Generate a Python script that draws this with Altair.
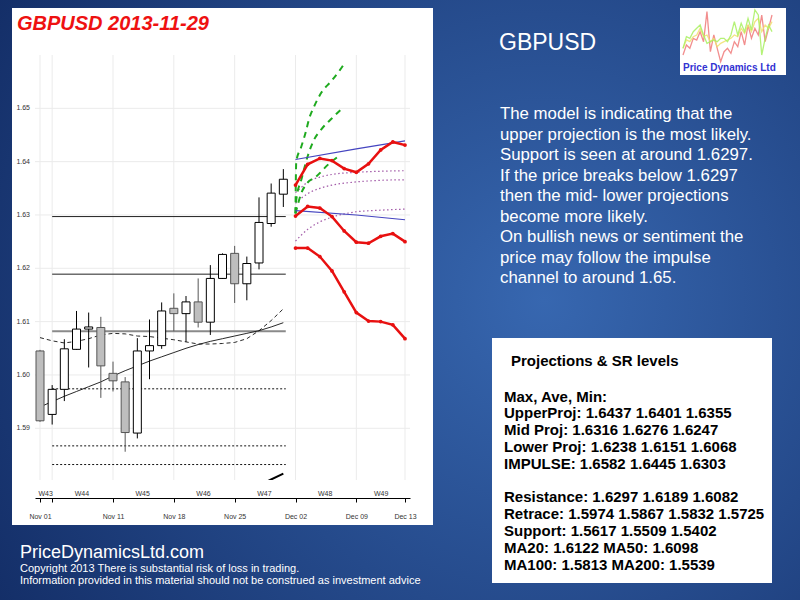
import altair as alt
import pandas as pd

# ---------------- price history (trading-day index: 0 = Nov 01 ... 20 = Nov 29) ----------------
candle_idx = list(range(21))
opens = [1.6045, 1.5926, 1.5973, 1.6048, 1.6086, 1.6089, 1.6003, 1.5987, 1.5891, 1.6045, 1.6055,
         1.6125, 1.6115, 1.6137, 1.6099, 1.6181, 1.6228, 1.6171, 1.6210, 1.6284, 1.6339]
closes = [1.5914, 1.5973, 1.6049, 1.6086, 1.6090, 1.6017, 1.5989, 1.5892, 1.6045, 1.6055, 1.6120,
          1.6115, 1.6137, 1.6099, 1.6181, 1.6226, 1.6171, 1.6209, 1.6286, 1.6341, 1.6367]
highs = [1.6047, 1.5981, 1.6067, 1.6120, 1.6117, 1.6109, 1.6025, 1.5996, 1.6069, 1.6104, 1.6136,
         1.6153, 1.6148, 1.6181, 1.6206, 1.6228, 1.6242, 1.6222, 1.6333, 1.6359, 1.6386]
lows = [1.5912, 1.5907, 1.5951, 1.6047, 1.6014, 1.5957, 1.5969, 1.5856, 1.5881, 1.5992, 1.6049,
        1.6082, 1.6062, 1.6089, 1.6075, 1.6180, 1.6135, 1.6140, 1.6198, 1.6278, 1.6315]

ma20 = [1.6070, 1.6064, 1.6060, 1.6063, 1.6068, 1.6075, 1.6078, 1.6077, 1.6073, 1.6072, 1.6069,
        1.6066, 1.6062, 1.6058, 1.6058, 1.6059, 1.6061, 1.6068, 1.6083, 1.6102, 1.6124]
ma50 = [1.5940, 1.5950, 1.5960, 1.5969, 1.5978, 1.5987, 1.5998, 1.6008, 1.6017, 1.6026, 1.6034,
        1.6042, 1.6050, 1.6057, 1.6063, 1.6068, 1.6073, 1.6078, 1.6083, 1.6090, 1.6098]
ma100_idx = [18, 19, 20]
ma100 = [1.5793, 1.5804, 1.5815]

# support / resistance levels
resistance = [1.6297, 1.6189, 1.6082]
retrace = [1.5974, 1.5867, 1.5832, 1.5725]
sr_span = [1, 20.2]

# ---------------- projections (21 = Dec 02 ... 30 = Dec 13) ----------------
proj_idx = list(range(21, 31))
proj_upper = [1.6356, 1.6395, 1.6406, 1.6402, 1.6387, 1.6380, 1.6396, 1.6422, 1.6437, 1.6431]
proj_mid = [1.6298, 1.6316, 1.6313, 1.6297, 1.6270, 1.6249, 1.6247, 1.6260, 1.6265, 1.6250]
proj_lower = [1.6238, 1.6238, 1.6222, 1.6195, 1.6156, 1.6117, 1.6101, 1.6100, 1.6094, 1.6068]

chan_idx = [21, 26, 30]
chan_upper = [1.6404, 1.6424, 1.6439]
chan_lower = [1.6308, 1.6300, 1.6291]

imp1_idx = [21.0, 21.03, 21.06, 21.46, 21.86, 22.1, 22.5, 23.14, 23.94, 24.66, 24.9]
imp1 = [1.6303, 1.6370, 1.6400, 1.6427, 1.6457, 1.6479, 1.6502, 1.6530, 1.6551, 1.6572, 1.6580]
imp2_idx = [21.0, 21.06, 21.5, 22.0, 22.5, 23.14, 24.02, 24.9]
imp2 = [1.6303, 1.6328, 1.6368, 1.6410, 1.6440, 1.6461, 1.6482, 1.6501]
imp3_idx = [21.0, 21.06, 21.46, 21.9, 22.7, 23.8, 24.6]
imp3 = [1.6303, 1.6308, 1.6340, 1.6358, 1.6372, 1.6397, 1.6411]

p1_idx = [21, 21.5, 22, 23, 24, 26, 28, 30]
p1 = [1.6342, 1.6352, 1.6362, 1.6371, 1.6376, 1.6380, 1.6382, 1.6383]
p2_idx = [21, 22, 23, 24, 26, 28, 30]
p2 = [1.6322, 1.6340, 1.6350, 1.6356, 1.6362, 1.6365, 1.6366]
p3_idx = [21, 22, 23, 24, 25, 26, 28, 30]
p3 = [1.6251, 1.6273, 1.6287, 1.6296, 1.6302, 1.6306, 1.6309, 1.6311]

# axes
date_ticks = [0, 1, 6, 11, 16, 21, 26, 30]
date_labels = ["Nov 01", "", "Nov 11", "Nov 18", "Nov 25", "Dec 02", "Dec 09", "Dec 13"]
week_pos = [0.42, 3.4, 8.4, 13.4, 18.4, 23.4, 28.0]
week_labels = ["W43", "W44", "W45", "W46", "W47", "W48", "W49"]
y_ticks = [1.59, 1.60, 1.61, 1.62, 1.63, 1.64, 1.65]
y_tick_labels = ["1.59", "1.60", "1.61", "1.62", "1.63", "1.64", "1.65"]
x_grid = [0, 1, 6, 11, 16, 21, 26, 30]
x_domain = [0, 30]
y_domain = [1.5803, 1.66]

# logo zig-zags
logo_red = [30, 60, 50, 80, 75, 100, 70, 160, 40, 90, 50, 10, 40, 50, 35, 70, 55, 100, 60, 120, 80, 110, 90, 150, 70, 110, 150]
logo_yellow = [50, 75, 70, 85, 90, 110, 85, 90, 70, 80, 55, 65, 70, 75, 80, 90, 85, 110, 95, 120, 100, 130, 140, 100, 120, 110, 130]
logo_green = [50, 85, 80, 100, 110, 120, 90, 65, 70, 75, 70, 80, 80, 70, 90, 130, 90, 125, 100, 140, 105, 165, 150, 30, 80, 120, 100]

# texts
title_text = "GBPUSD 2013-11-29"
heading_text = "GBPUSD"
para_lines = [
    "The model is indicating that the",
    "upper projection is the most likely.",
    "Support is seen at around 1.6297.",
    "If the price breaks below 1.6297",
    "then the mid- lower projections",
    "become more likely.",
    "On bullish news or sentiment the",
    "price may follow the impulse",
    "channel to around 1.65.",
]
box_title = "Projections & SR levels"
box_lines_a = [
    "Max, Ave, Min:",
    "UpperProj:  1.6437 1.6401 1.6355",
    "Mid Proj:  1.6316 1.6276 1.6247",
    "Lower Proj:  1.6238 1.6151 1.6068",
    "IMPULSE: 1.6582 1.6445 1.6303",
]
box_lines_b = [
    "Resistance: 1.6297 1.6189 1.6082",
    "Retrace: 1.5974 1.5867 1.5832 1.5725",
    "Support: 1.5617 1.5509 1.5402",
    "MA20: 1.6122 MA50: 1.6098",
    "MA100: 1.5813 MA200: 1.5539",
]
footer_site = "PriceDynamicsLtd.com"
footer_lines = [
    "Copyright 2013 There is substantial risk of loss in trading.",
    "Information provided in this material should not be construed as investment advice",
]
logo_text = "Price Dynamics Ltd"

# ---------------- layout ----------------
OX, OY = 35, 55          # plot origin in the page
W, H = 375, 425          # plot size
FONT = "Liberation Sans"

xs = alt.Scale(domain=x_domain, nice=False, zero=False)
ys = alt.Scale(domain=y_domain, nice=False, zero=False)


def lookup_expr(vals, labels, tol=0.01):
    expr = "''"
    for v, l in reversed(list(zip(vals, labels))):
        expr = f"abs(datum.value - {v}) < {tol} ? '{l}' : ({expr})"
    return expr


def px(v, origin):
    return alt.value(v - origin)


one = pd.DataFrame({"a": [0]})


def rect(x1, y1, x2, y2, **kw):
    return alt.Chart(one).mark_rect(**kw).encode(
        x=px(x1, OX), x2=px(x2, OX), y=px(y1, OY), y2=px(y2, OY))


def text_block(lines, x, y, size, color, weight="normal", style="normal", lh=None):
    df = pd.DataFrame({"t": ["\n".join(lines)]})
    return alt.Chart(df).mark_text(
        align="left", baseline="alphabetic", font=FONT, fontSize=size, color=color,
        fontWeight=weight, fontStyle=style, lineBreak="\n", lineHeight=lh or size * 1.2,
    ).encode(x=px(x, OX), y=px(y, OY), text="t:N")


# background
bg = rect(0, 0, 800, 600, fill=alt.RadialGradient(
    gradient="radial",
    stops=[alt.GradientStop(offset=0, color="#3767b0"), alt.GradientStop(offset=1, color="#132d66")],
    x1=0.68, y1=0.5, r1=0, x2=0.68, y2=0.5, r2=0.8))
panel = rect(12, 8, 433, 525, color="white")
box = rect(492, 338, 772, 583, color="white")
logo_box = rect(680, 8, 786, 75, color="white")

# ---------------- main chart ----------------
cdf = pd.DataFrame({"i": candle_idx, "open": opens, "close": closes, "high": highs, "low": lows})
cdf["dir"] = ["up" if c >= o else "down" for o, c in zip(opens, closes)]

stroke_scale = alt.Scale(domain=["up", "down"], range=["black", "#555555"])
fill_scale = alt.Scale(domain=["up", "down"], range=["white", "#bebebe"])

date_axis = alt.Axis(values=date_ticks, labelExpr=lookup_expr(date_ticks, date_labels), orient="bottom",
                     offset=18, domain=True, domainColor="black", domainWidth=1, ticks=True,
                     tickColor="black", tickSize=4, labelPadding=10, labelFontSize=7, labelColor="#333333",
                     labelFont=FONT, grid=False, title=None, zindex=1, labelFlush=False, labelOverlap=False)
week_axis = alt.Axis(values=week_pos, labelExpr=lookup_expr(week_pos, week_labels), orient="bottom",
                     offset=0, domain=False, ticks=False, tickSize=0, labelPadding=9, labelFontSize=7,
                     labelColor="#333333", labelFont=FONT, grid=False, title=None, zindex=1,
                     labelFlush=False, labelOverlap=False)


def X(f, axis=None):
    return alt.X(f, type="quantitative", scale=xs, axis=axis)


def Y(f, axis=None):
    return alt.Y(f, type="quantitative", scale=ys, axis=axis)


ytick_df = pd.DataFrame({"g": y_ticks, "lab": y_tick_labels})
grid_h = alt.Chart(ytick_df).mark_rule(color="#ebebeb", strokeWidth=1).encode(y=Y("g"))
grid_v = alt.Chart(pd.DataFrame({"g": x_grid})).mark_rule(color="#ebebeb", strokeWidth=1).encode(x=X("g"))
# y tick labels, placed through the y scale
y_labels = alt.Chart(ytick_df).mark_text(
    align="right", baseline="middle", font=FONT, fontSize=7, color="#333333", dx=-5
).encode(x=alt.value(0), y=Y("g"), text="lab:N")

res_df = pd.DataFrame({"lvl": resistance[:2], "x1": sr_span[0], "x2": sr_span[1]})
res_black = alt.Chart(res_df).mark_rule(color="#222222", strokeWidth=1).encode(x=X("x1"), x2="x2", y=Y("lvl"))
res_grey = alt.Chart(pd.DataFrame({"lvl": resistance[2:], "x1": sr_span[0], "x2": sr_span[1]})).mark_rule(
    color="#8a8a8a", strokeWidth=2).encode(x=X("x1"), x2="x2", y=Y("lvl"))
ret_df = pd.DataFrame({"lvl": [r for r in retrace if r >= y_domain[0]], "x1": sr_span[0], "x2": sr_span[1]})
ret = alt.Chart(ret_df).mark_rule(color="#111111", strokeWidth=1, strokeDash=[2, 2]).encode(
    x=X("x1"), x2="x2", y=Y("lvl"))

ma50_l = alt.Chart(pd.DataFrame({"i": candle_idx, "v": ma50})).mark_line(color="#111111", strokeWidth=0.9).encode(
    x=X("i"), y=Y("v"))
ma20_l = alt.Chart(pd.DataFrame({"i": candle_idx, "v": ma20})).mark_line(
    color="#111111", strokeWidth=0.9, strokeDash=[4, 3]).encode(x=X("i"), y=Y("v"))
ma100_l = alt.Chart(pd.DataFrame({"i": ma100_idx, "v": ma100})).mark_line(
    color="black", strokeWidth=2, clip=True).encode(x=X("i"), y=Y("v"))

wick = alt.Chart(cdf).mark_rule(strokeWidth=1).encode(
    x=X("i", date_axis), y=Y("low"), y2="high",
    stroke=alt.Stroke("dir:N", scale=stroke_scale, legend=None))
body = alt.Chart(cdf).mark_bar(size=8, strokeWidth=1).encode(
    x=X("i"), y=Y("open"), y2="close",
    fill=alt.Fill("dir:N", scale=fill_scale, legend=None),
    stroke=alt.Stroke("dir:N", scale=stroke_scale, legend=None))


def series_df(pairs):
    rows = []
    for name, xi, vals in pairs:
        for a, b in zip(xi, vals):
            rows.append({"s": name, "i": a, "v": b})
    return pd.DataFrame(rows)


purple = alt.Chart(series_df([("p1", p1_idx, p1), ("p2", p2_idx, p2), ("p3", p3_idx, p3)])).mark_line(
    color="#a25aa8", strokeWidth=1.2, strokeDash=[1.5, 2.5], interpolate="monotone").encode(
    x=X("i"), y=Y("v"), detail="s:N")
green = alt.Chart(series_df([("g1", imp1_idx, imp1), ("g2", imp2_idx, imp2), ("g3", imp3_idx, imp3)])).mark_line(
    color="#1faa1f", strokeWidth=2, strokeDash=[6, 5], interpolate="monotone").encode(
    x=X("i"), y=Y("v"), detail="s:N")
blue = alt.Chart(series_df([("u", chan_idx, chan_upper), ("l", chan_idx, chan_lower)])).mark_line(
    color="#4545c0", strokeWidth=1.2).encode(x=X("i"), y=Y("v"), detail="s:N")
red = alt.Chart(series_df([("u", proj_idx, proj_upper), ("m", proj_idx, proj_mid), ("l", proj_idx, proj_lower)])).mark_line(
    color="#e81010", strokeWidth=2.5, point=alt.OverlayMarkDef(filled=True, size=14, color="#e81010")).encode(
    x=X("i"), y=Y("v"), detail="s:N")

weeks = alt.Chart(pd.DataFrame({"w": week_pos})).mark_point(opacity=0).encode(x=X("w", week_axis))

main = alt.layer(grid_h, grid_v, y_labels, res_black, res_grey, ret, ma50_l, ma20_l, wick, body, ma100_l,
                 purple, green, blue, red, weeks).resolve_axis(x="independent")

# ---------------- logo ----------------
n = len(logo_red)
logo_df = series_df([("r", list(range(n)), logo_red), ("y", list(range(n)), logo_yellow),
                     ("g", list(range(n)), logo_green)])
logo = alt.Chart(logo_df).mark_line(strokeWidth=1.3, opacity=0.85).encode(
    x=alt.X("i:Q", scale=alt.Scale(domain=[0, n - 1], range=[683 - OX, 772 - OX]), axis=None),
    y=alt.Y("v:Q", scale=alt.Scale(domain=[0, 180], range=[65 - OY, 5 - OY]), axis=None),
    color=alt.Color("s:N", scale=alt.Scale(domain=["r", "y", "g"], range=["#f07a7a", "#f0e070", "#a8f060"]),
                    legend=None),
    detail="s:N")

texts = [
    text_block([title_text], 17, 30, 20, "#ee1111", weight="bold", style="italic"),
    text_block([heading_text], 499, 50, 23, "white"),
    text_block(para_lines, 500, 119, 16.8, "white", lh=20.5),
    text_block([box_title], 511, 366, 15, "black", weight="bold"),
    text_block(box_lines_a, 504, 401.5, 15, "black", weight="bold", lh=16.9),
    text_block(box_lines_b, 504, 502, 15, "black", weight="bold", lh=16.9),
    text_block([footer_site], 20, 557.5, 18, "white"),
    text_block(footer_lines, 20, 572, 11, "white", lh=11.8),
    text_block([logo_text], 683, 71, 10, "#3232d2", weight="bold"),
]

chart = alt.layer(bg, panel, box, logo_box, main, logo, *texts).resolve_scale(
    x="independent", y="independent", color="independent"
).properties(
    width=W, height=H,
    padding={"left": OX, "top": OY, "right": 800 - OX - W, "bottom": 600 - OY - H},
    autosize=alt.AutoSizeParams(type="none"),
    background="#1b3a78",
).configure_view(strokeWidth=0)

chart.save("out.html", embed_options={"renderer": "svg", "actions": False})
